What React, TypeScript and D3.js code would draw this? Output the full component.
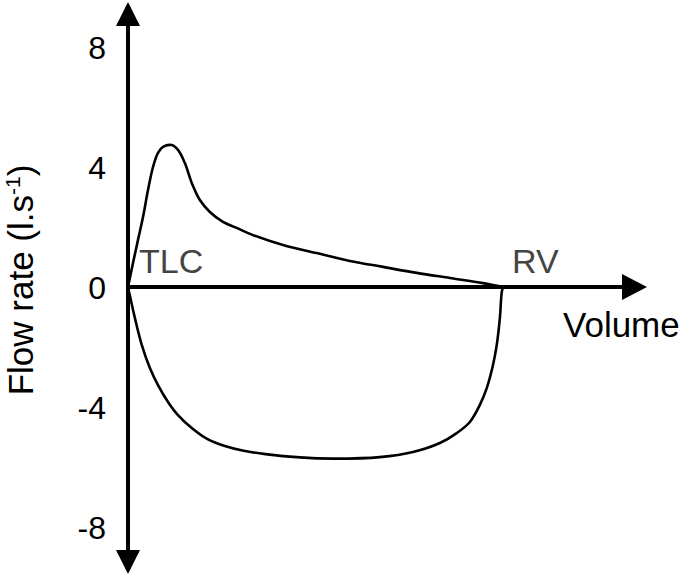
import React from "react";
import * as d3 from "d3";

// Volume (L from TLC) and flow (l/s)
const expVolume = [0, 0.08, 0.16, 0.24, 0.32, 0.4, 0.48, 0.56, 0.7, 0.8, 0.91, 1.02, 1.15, 1.31, 1.52, 1.74, 2.0, 2.48, 3.02, 3.55, 4.08, 4.62, 5.15, 5.68, 6.0];
const expFlow = [0, 0.8, 1.57, 2.33, 3.23, 4.0, 4.47, 4.67, 4.73, 4.57, 4.13, 3.47, 2.9, 2.5, 2.17, 1.97, 1.73, 1.4, 1.13, 0.87, 0.67, 0.47, 0.3, 0.13, 0];
const inspVolume = [0, 0.11, 0.22, 0.35, 0.48, 0.64, 0.8, 1.02, 1.28, 1.55, 1.85, 2.2, 2.75, 3.28, 4.03, 4.56, 4.99, 5.26, 5.47, 5.63, 5.74, 5.84, 5.9, 5.95, 5.98, 6.0];
const inspFlow = [0, -1.03, -1.93, -2.7, -3.27, -3.83, -4.27, -4.7, -5.08, -5.3, -5.46, -5.57, -5.68, -5.72, -5.67, -5.5, -5.2, -4.87, -4.5, -3.93, -3.37, -2.6, -1.93, -1.03, -0.17, 0];
const yTicks = [8, 4, 0, -4, -8];

const W = 681;
const H = 575;
const FONT = "'Liberation Sans', Arial, sans-serif";

export default function App() {
  const x = d3.scaleLinear().domain([0, 6]).range([128, 503]);
  const y = d3.scaleLinear().domain([-8, 8]).range([527, 47]);

  const line = d3
    .line<[number, number]>()
    .x((d) => x(d[0]))
    .y((d) => y(d[1]))
    .curve(d3.curveCatmullRom.alpha(0.5));

  const expPath = line(expVolume.map((v, i) => [v, expFlow[i]] as [number, number])) || "";
  const inspPath = line(inspVolume.map((v, i) => [v, inspFlow[i]] as [number, number])) || "";

  const x0 = x(0);
  const y0 = y(0);

  return (
    <svg
      width={W}
      height={H}
      style={{ position: "absolute", left: 0, top: 0, display: "block", background: "#fff" }}
      fontFamily={FONT}
    >
      {/* y axis */}
      <line x1={x0} x2={x0} y1={22} y2={553} stroke="#000" strokeWidth={4} />
      <polygon points={`${x0},2 ${x0 - 12},26 ${x0 + 12},26`} fill="#000" />
      <polygon points={`${x0},574 ${x0 - 12},550 ${x0 + 12},550`} fill="#000" />
      {/* x axis */}
      <line x1={x0} x2={626} y1={y0} y2={y0} stroke="#000" strokeWidth={4} />
      <polygon points={`647,${y0} 622,${y0 - 13} 622,${y0 + 13}`} fill="#000" />

      {yTicks.map((t) => (
        <text
          key={t}
          x={106}
          y={y(t)}
          dy="0.36em"
          textAnchor="end"
          fontSize={32}
          fill="#000"
        >
          {t}
        </text>
      ))}

      <text
        transform={`translate(33,280) rotate(-90)`}
        textAnchor="middle"
        fontSize={35}
        fill="#000"
      >
        Flow rate (l.s
        <tspan dy={-13} fontSize={21}>-1</tspan>
        <tspan dy={13}>)</tspan>
      </text>

      <path d={expPath} fill="none" stroke="#000" strokeWidth={2.6} />
      <path d={inspPath} fill="none" stroke="#000" strokeWidth={2.6} />

      <text x={139} y={273} fontSize={34} fill="#444">TLC</text>
      <text x={512} y={273} fontSize={34} fill="#444">RV</text>
      <text x={563} y={337} fontSize={35} fill="#000">Volume</text>
    </svg>
  );
}
